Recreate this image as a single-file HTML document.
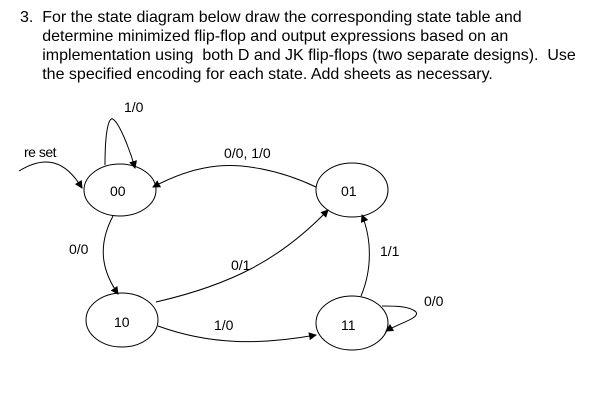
<!DOCTYPE html>
<html><head><style>
body{margin:0;background:#fff;width:616px;height:416px;overflow:hidden;font-family:"Liberation Sans",Arial,sans-serif;}
.t{position:absolute;left:20px;top:8px;font-size:16px;line-height:19px;color:#000;white-space:nowrap;}
svg{position:absolute;left:0;top:0}
</style></head><body>
<div class="t">3.&nbsp; For the state diagram below draw the corresponding state table and<br>
&nbsp;&nbsp;&nbsp;&nbsp;&nbsp;determine minimized flip-flop and output expressions based on an<br>
&nbsp;&nbsp;&nbsp;&nbsp;&nbsp;implementation using&nbsp; both D and JK flip-flops (two separate designs).&nbsp; Use<br>
&nbsp;&nbsp;&nbsp;&nbsp;&nbsp;the specified encoding for each state. Add sheets as necessary.</div>
<svg width="616" height="416" font-family="Liberation Sans, Arial, sans-serif" font-size="14">
<defs><marker id="a" markerWidth="8" markerHeight="8" refX="7" refY="4" orient="auto" markerUnits="userSpaceOnUse"><path d="M0,0 L8,4 L0,8 z" fill="#000"/></marker></defs>
<g fill="none" stroke="#000" stroke-width="1">
<ellipse cx="120" cy="190" rx="36" ry="26"/>
<ellipse cx="122" cy="320" rx="36" ry="27"/>
<ellipse cx="352" cy="190" rx="36" ry="27"/>
<ellipse cx="352" cy="323" rx="36" ry="27"/>
<path d="M19,171 C45,155 65,160 82,188" marker-end="url(#a)"/>
<path d="M105,165 C105,125 110,115 114,120 C120,125 130,150 135,168" marker-end="url(#a)"/>
<path d="M316,187 C280,170 240,162 210,167 C190,170 170,178 153,187" marker-end="url(#a)"/>
<path d="M113,216 C95,250 105,275 118,294" marker-end="url(#a)"/>
<path d="M156,302 C230,285 280,260 328,210" marker-end="url(#a)"/>
<path d="M158,326 C210,345 260,345 316,335" marker-end="url(#a)"/>
<path d="M361,296 C372,270 372,240 362,215" marker-end="url(#a)"/>
<path d="M382,306 C395,306 410,306 416,312 C420,318 400,323 386,331" marker-end="url(#a)"/>
</g>
<g fill="#000">
<text x="124" y="112">1/0</text>
<text x="24" y="157" letter-spacing="-0.5">re set</text>
<text x="224" y="158">0/0, 1/0</text>
<text x="110" y="196">00</text>
<text x="341" y="196">01</text>
<text x="69" y="254">0/0</text>
<text x="231" y="270">0/1</text>
<text x="380" y="256">1/1</text>
<text x="424" y="306">0/0</text>
<text x="114" y="327">10</text>
<text x="214" y="330">1/0</text>
<text x="341" y="330">11</text>
</g>
</svg>
</body></html>
